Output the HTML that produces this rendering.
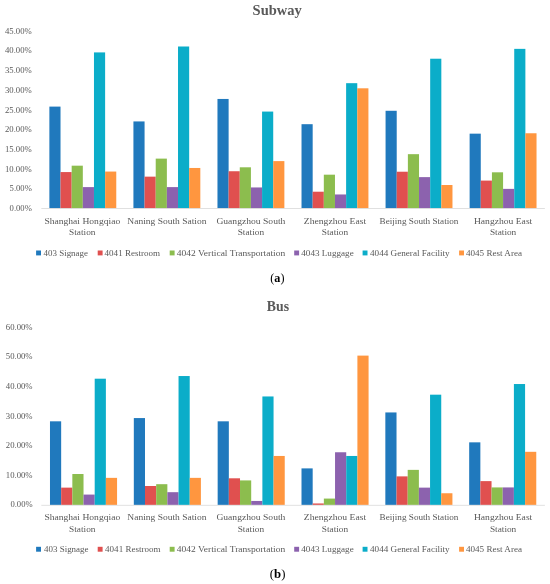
<!DOCTYPE html>
<html><head><meta charset="utf-8"><title>Subway / Bus</title>
<style>
html,body{margin:0;padding:0;background:#fff;}
svg{display:block;font-family:"Liberation Serif", serif;}
</style></head><body>
<svg width="550" height="584" viewBox="0 0 550 584">
<rect width="550" height="584" fill="#fff"/>
<text x="277.2" y="14.8" text-anchor="middle" font-size="14.6" font-weight="bold" fill="#595959" textLength="49.2" lengthAdjust="spacingAndGlyphs">Subway</text>
<text x="31.8" y="211.1" text-anchor="end" font-size="9" fill="#595959" textLength="22.2" lengthAdjust="spacingAndGlyphs">0.00%</text>
<text x="31.8" y="191.4" text-anchor="end" font-size="9" fill="#595959" textLength="22.2" lengthAdjust="spacingAndGlyphs">5.00%</text>
<text x="31.8" y="171.7" text-anchor="end" font-size="9" fill="#595959" textLength="26.8" lengthAdjust="spacingAndGlyphs">10.00%</text>
<text x="31.8" y="151.9" text-anchor="end" font-size="9" fill="#595959" textLength="26.8" lengthAdjust="spacingAndGlyphs">15.00%</text>
<text x="31.8" y="132.2" text-anchor="end" font-size="9" fill="#595959" textLength="26.8" lengthAdjust="spacingAndGlyphs">20.00%</text>
<text x="31.8" y="112.5" text-anchor="end" font-size="9" fill="#595959" textLength="26.8" lengthAdjust="spacingAndGlyphs">25.00%</text>
<text x="31.8" y="92.8" text-anchor="end" font-size="9" fill="#595959" textLength="26.8" lengthAdjust="spacingAndGlyphs">30.00%</text>
<text x="31.8" y="73.1" text-anchor="end" font-size="9" fill="#595959" textLength="26.8" lengthAdjust="spacingAndGlyphs">35.00%</text>
<text x="31.8" y="53.3" text-anchor="end" font-size="9" fill="#595959" textLength="26.8" lengthAdjust="spacingAndGlyphs">40.00%</text>
<text x="31.8" y="33.6" text-anchor="end" font-size="9" fill="#595959" textLength="26.8" lengthAdjust="spacingAndGlyphs">45.00%</text>
<rect x="49.37" y="106.60" width="11.15" height="101.60" fill="#2079bd"/>
<rect x="60.52" y="172.07" width="11.15" height="36.13" fill="#e0504f"/>
<rect x="71.67" y="165.68" width="11.15" height="42.52" fill="#8cbd4e"/>
<rect x="82.82" y="187.10" width="11.15" height="21.10" fill="#8c62ae"/>
<rect x="93.97" y="52.41" width="11.15" height="155.79" fill="#0badc9"/>
<rect x="105.12" y="171.56" width="11.15" height="36.64" fill="#ff963f"/>
<rect x="133.42" y="121.43" width="11.15" height="86.77" fill="#2079bd"/>
<rect x="144.57" y="176.65" width="11.15" height="31.55" fill="#e0504f"/>
<rect x="155.72" y="158.62" width="11.15" height="49.58" fill="#8cbd4e"/>
<rect x="166.88" y="187.10" width="11.15" height="21.10" fill="#8c62ae"/>
<rect x="178.02" y="46.50" width="11.15" height="161.70" fill="#0badc9"/>
<rect x="189.17" y="167.97" width="11.15" height="40.23" fill="#ff963f"/>
<rect x="217.47" y="98.95" width="11.15" height="109.25" fill="#2079bd"/>
<rect x="228.62" y="171.24" width="11.15" height="36.96" fill="#e0504f"/>
<rect x="239.77" y="167.30" width="11.15" height="40.90" fill="#8cbd4e"/>
<rect x="250.92" y="187.45" width="11.15" height="20.75" fill="#8c62ae"/>
<rect x="262.07" y="111.57" width="11.15" height="96.63" fill="#0badc9"/>
<rect x="273.22" y="161.11" width="11.15" height="47.09" fill="#ff963f"/>
<rect x="301.52" y="124.19" width="11.15" height="84.01" fill="#2079bd"/>
<rect x="312.67" y="191.71" width="11.15" height="16.49" fill="#e0504f"/>
<rect x="323.82" y="174.68" width="11.15" height="33.52" fill="#8cbd4e"/>
<rect x="334.97" y="194.47" width="11.15" height="13.73" fill="#8c62ae"/>
<rect x="346.12" y="83.18" width="11.15" height="125.02" fill="#0badc9"/>
<rect x="357.27" y="88.30" width="11.15" height="119.90" fill="#ff963f"/>
<rect x="385.57" y="110.78" width="11.15" height="97.42" fill="#2079bd"/>
<rect x="396.72" y="171.72" width="11.15" height="36.48" fill="#e0504f"/>
<rect x="407.88" y="154.17" width="11.15" height="54.03" fill="#8cbd4e"/>
<rect x="419.02" y="177.12" width="11.15" height="31.08" fill="#8c62ae"/>
<rect x="430.18" y="58.72" width="11.15" height="149.48" fill="#0badc9"/>
<rect x="441.32" y="185.01" width="11.15" height="23.19" fill="#ff963f"/>
<rect x="469.62" y="133.66" width="11.15" height="74.54" fill="#2079bd"/>
<rect x="480.77" y="180.59" width="11.15" height="27.61" fill="#e0504f"/>
<rect x="491.93" y="172.31" width="11.15" height="35.89" fill="#8cbd4e"/>
<rect x="503.07" y="188.87" width="11.15" height="19.33" fill="#8c62ae"/>
<rect x="514.23" y="48.86" width="11.15" height="159.34" fill="#0badc9"/>
<rect x="525.38" y="133.26" width="11.15" height="74.94" fill="#ff963f"/>
<rect x="41.3" y="208.10" width="503.6" height="0.8" fill="#d9d9d9"/>
<text x="82.3" y="223.8" text-anchor="middle" font-size="9.2" fill="#595959" textLength="75.8" lengthAdjust="spacingAndGlyphs">Shanghai Hongqiao</text>
<text x="82.3" y="235.3" text-anchor="middle" font-size="9.2" fill="#595959" textLength="26.4" lengthAdjust="spacingAndGlyphs">Station</text>
<text x="166.9" y="223.8" text-anchor="middle" font-size="9.2" fill="#595959" textLength="79.2" lengthAdjust="spacingAndGlyphs">Naning South Sation</text>
<text x="250.9" y="223.8" text-anchor="middle" font-size="9.2" fill="#595959" textLength="69.0" lengthAdjust="spacingAndGlyphs">Guangzhou South</text>
<text x="250.9" y="235.3" text-anchor="middle" font-size="9.2" fill="#595959" textLength="26.4" lengthAdjust="spacingAndGlyphs">Station</text>
<text x="335.0" y="223.8" text-anchor="middle" font-size="9.2" fill="#595959" textLength="62.4" lengthAdjust="spacingAndGlyphs">Zhengzhou East</text>
<text x="335.0" y="235.3" text-anchor="middle" font-size="9.2" fill="#595959" textLength="26.4" lengthAdjust="spacingAndGlyphs">Station</text>
<text x="419.0" y="223.8" text-anchor="middle" font-size="9.2" fill="#595959" textLength="78.9" lengthAdjust="spacingAndGlyphs">Beijing South Station</text>
<text x="503.1" y="223.8" text-anchor="middle" font-size="9.2" fill="#595959" textLength="58.4" lengthAdjust="spacingAndGlyphs">Hangzhou East</text>
<text x="503.1" y="235.3" text-anchor="middle" font-size="9.2" fill="#595959" textLength="26.4" lengthAdjust="spacingAndGlyphs">Station</text>
<rect x="36.1" y="250.5" width="4.9" height="4.9" fill="#2079bd"/>
<text x="43.5" y="255.8" font-size="9" fill="#595959" textLength="44.5" lengthAdjust="spacingAndGlyphs">403 Signage</text>
<rect x="97.7" y="250.5" width="4.9" height="4.9" fill="#e0504f"/>
<text x="104.6" y="255.8" font-size="9" fill="#595959" textLength="55.4" lengthAdjust="spacingAndGlyphs">4041 Restroom</text>
<rect x="169.7" y="250.5" width="4.9" height="4.9" fill="#8cbd4e"/>
<text x="176.8" y="255.8" font-size="9" fill="#595959" textLength="108.4" lengthAdjust="spacingAndGlyphs">4042 Vertical Transportation</text>
<rect x="294.2" y="250.5" width="4.9" height="4.9" fill="#8c62ae"/>
<text x="301.3" y="255.8" font-size="9" fill="#595959" textLength="52.4" lengthAdjust="spacingAndGlyphs">4043 Luggage</text>
<rect x="362.6" y="250.5" width="4.9" height="4.9" fill="#0badc9"/>
<text x="370.0" y="255.8" font-size="9" fill="#595959" textLength="79.7" lengthAdjust="spacingAndGlyphs">4044 General Facility</text>
<rect x="459.1" y="250.5" width="4.9" height="4.9" fill="#ff963f"/>
<text x="466.0" y="255.8" font-size="9" fill="#595959" textLength="56.0" lengthAdjust="spacingAndGlyphs">4045 Rest Area</text>
<text x="277.9" y="311.0" text-anchor="middle" font-size="14.6" font-weight="bold" fill="#595959" textLength="22.2" lengthAdjust="spacingAndGlyphs">Bus</text>
<text x="32.6" y="507.3" text-anchor="end" font-size="9" fill="#595959" textLength="22.2" lengthAdjust="spacingAndGlyphs">0.00%</text>
<text x="32.6" y="477.7" text-anchor="end" font-size="9" fill="#595959" textLength="26.8" lengthAdjust="spacingAndGlyphs">10.00%</text>
<text x="32.6" y="448.1" text-anchor="end" font-size="9" fill="#595959" textLength="26.8" lengthAdjust="spacingAndGlyphs">20.00%</text>
<text x="32.6" y="418.5" text-anchor="end" font-size="9" fill="#595959" textLength="26.8" lengthAdjust="spacingAndGlyphs">30.00%</text>
<text x="32.6" y="388.9" text-anchor="end" font-size="9" fill="#595959" textLength="26.8" lengthAdjust="spacingAndGlyphs">40.00%</text>
<text x="32.6" y="359.3" text-anchor="end" font-size="9" fill="#595959" textLength="26.8" lengthAdjust="spacingAndGlyphs">50.00%</text>
<text x="32.6" y="329.7" text-anchor="end" font-size="9" fill="#595959" textLength="26.8" lengthAdjust="spacingAndGlyphs">60.00%</text>
<rect x="49.98" y="421.32" width="11.18" height="83.63" fill="#2079bd"/>
<rect x="61.16" y="487.63" width="11.18" height="17.32" fill="#e0504f"/>
<rect x="72.34" y="474.01" width="11.18" height="30.94" fill="#8cbd4e"/>
<rect x="83.52" y="494.58" width="11.18" height="10.37" fill="#8c62ae"/>
<rect x="94.70" y="378.70" width="11.18" height="126.25" fill="#0badc9"/>
<rect x="105.88" y="477.86" width="11.18" height="27.09" fill="#ff963f"/>
<rect x="133.82" y="418.07" width="11.18" height="86.88" fill="#2079bd"/>
<rect x="145.00" y="486.00" width="11.18" height="18.95" fill="#e0504f"/>
<rect x="156.18" y="484.19" width="11.18" height="20.76" fill="#8cbd4e"/>
<rect x="167.36" y="492.19" width="11.18" height="12.76" fill="#8c62ae"/>
<rect x="178.54" y="376.04" width="11.18" height="128.91" fill="#0badc9"/>
<rect x="189.72" y="477.86" width="11.18" height="27.09" fill="#ff963f"/>
<rect x="217.66" y="421.32" width="11.18" height="83.63" fill="#2079bd"/>
<rect x="228.84" y="478.30" width="11.18" height="26.65" fill="#e0504f"/>
<rect x="240.02" y="480.41" width="11.18" height="24.54" fill="#8cbd4e"/>
<rect x="251.20" y="500.95" width="11.18" height="4.00" fill="#8c62ae"/>
<rect x="262.38" y="396.46" width="11.18" height="108.49" fill="#0badc9"/>
<rect x="273.56" y="455.96" width="11.18" height="48.99" fill="#ff963f"/>
<rect x="301.50" y="468.39" width="11.18" height="36.56" fill="#2079bd"/>
<rect x="312.68" y="503.46" width="11.18" height="1.49" fill="#e0504f"/>
<rect x="323.86" y="498.58" width="11.18" height="6.37" fill="#8cbd4e"/>
<rect x="335.04" y="452.26" width="11.18" height="52.69" fill="#8c62ae"/>
<rect x="346.22" y="455.96" width="11.18" height="48.99" fill="#0badc9"/>
<rect x="357.40" y="355.61" width="11.18" height="149.34" fill="#ff963f"/>
<rect x="385.34" y="412.44" width="11.18" height="92.51" fill="#2079bd"/>
<rect x="396.52" y="476.38" width="11.18" height="28.57" fill="#e0504f"/>
<rect x="407.70" y="469.87" width="11.18" height="35.08" fill="#8cbd4e"/>
<rect x="418.88" y="487.63" width="11.18" height="17.32" fill="#8c62ae"/>
<rect x="430.06" y="394.68" width="11.18" height="110.27" fill="#0badc9"/>
<rect x="441.24" y="493.25" width="11.18" height="11.70" fill="#ff963f"/>
<rect x="469.18" y="442.34" width="11.18" height="62.61" fill="#2079bd"/>
<rect x="480.36" y="481.12" width="11.18" height="23.83" fill="#e0504f"/>
<rect x="491.54" y="487.42" width="11.18" height="17.53" fill="#8cbd4e"/>
<rect x="502.72" y="487.42" width="11.18" height="17.53" fill="#8c62ae"/>
<rect x="513.90" y="384.03" width="11.18" height="120.92" fill="#0badc9"/>
<rect x="525.08" y="451.81" width="11.18" height="53.14" fill="#ff963f"/>
<rect x="41.3" y="504.85" width="503.6" height="0.8" fill="#d9d9d9"/>
<text x="82.3" y="520.4" text-anchor="middle" font-size="9.2" fill="#595959" textLength="75.8" lengthAdjust="spacingAndGlyphs">Shanghai Hongqiao</text>
<text x="82.3" y="532.4" text-anchor="middle" font-size="9.2" fill="#595959" textLength="26.4" lengthAdjust="spacingAndGlyphs">Station</text>
<text x="166.9" y="520.4" text-anchor="middle" font-size="9.2" fill="#595959" textLength="79.2" lengthAdjust="spacingAndGlyphs">Naning South Sation</text>
<text x="250.9" y="520.4" text-anchor="middle" font-size="9.2" fill="#595959" textLength="69.0" lengthAdjust="spacingAndGlyphs">Guangzhou South</text>
<text x="250.9" y="532.4" text-anchor="middle" font-size="9.2" fill="#595959" textLength="26.4" lengthAdjust="spacingAndGlyphs">Station</text>
<text x="335.0" y="520.4" text-anchor="middle" font-size="9.2" fill="#595959" textLength="62.4" lengthAdjust="spacingAndGlyphs">Zhengzhou East</text>
<text x="335.0" y="532.4" text-anchor="middle" font-size="9.2" fill="#595959" textLength="26.4" lengthAdjust="spacingAndGlyphs">Station</text>
<text x="419.0" y="520.4" text-anchor="middle" font-size="9.2" fill="#595959" textLength="78.9" lengthAdjust="spacingAndGlyphs">Beijing South Station</text>
<text x="503.1" y="520.4" text-anchor="middle" font-size="9.2" fill="#595959" textLength="58.4" lengthAdjust="spacingAndGlyphs">Hangzhou East</text>
<text x="503.1" y="532.4" text-anchor="middle" font-size="9.2" fill="#595959" textLength="26.4" lengthAdjust="spacingAndGlyphs">Station</text>
<rect x="36.1" y="546.8" width="4.9" height="4.9" fill="#2079bd"/>
<text x="44.0" y="551.6" font-size="9" fill="#595959" textLength="44.5" lengthAdjust="spacingAndGlyphs">403 Signage</text>
<rect x="97.7" y="546.8" width="4.9" height="4.9" fill="#e0504f"/>
<text x="105.1" y="551.6" font-size="9" fill="#595959" textLength="55.4" lengthAdjust="spacingAndGlyphs">4041 Restroom</text>
<rect x="169.7" y="546.8" width="4.9" height="4.9" fill="#8cbd4e"/>
<text x="176.8" y="551.6" font-size="9" fill="#595959" textLength="108.4" lengthAdjust="spacingAndGlyphs">4042 Vertical Transportation</text>
<rect x="294.2" y="546.8" width="4.9" height="4.9" fill="#8c62ae"/>
<text x="301.3" y="551.6" font-size="9" fill="#595959" textLength="52.4" lengthAdjust="spacingAndGlyphs">4043 Luggage</text>
<rect x="362.6" y="546.8" width="4.9" height="4.9" fill="#0badc9"/>
<text x="370.0" y="551.6" font-size="9" fill="#595959" textLength="79.7" lengthAdjust="spacingAndGlyphs">4044 General Facility</text>
<rect x="459.1" y="546.8" width="4.9" height="4.9" fill="#ff963f"/>
<text x="466.0" y="551.6" font-size="9" fill="#595959" textLength="56.0" lengthAdjust="spacingAndGlyphs">4045 Rest Area</text>
<text x="277.4" y="281.7" text-anchor="middle" font-size="12.5" fill="#000" textLength="14.2" lengthAdjust="spacingAndGlyphs">(<tspan font-weight="bold">a</tspan>)</text>
<text x="277.6" y="577.7" text-anchor="middle" font-size="12.5" fill="#000" textLength="15.6" lengthAdjust="spacingAndGlyphs">(<tspan font-weight="bold">b</tspan>)</text>
</svg>
</body></html>
